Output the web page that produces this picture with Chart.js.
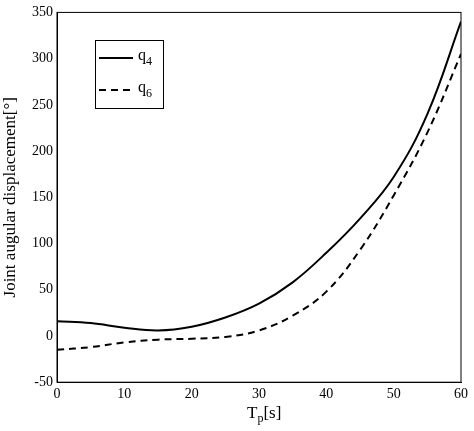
<!DOCTYPE html>
<html><head><meta charset="utf-8">
<script src="https://cdn.jsdelivr.net/npm/chart.js@4/dist/chart.umd.min.js"></script>
<style>html,body{margin:0;background:#fff}#w{width:474px;height:431px}</style>
</head><body><div id="w"><canvas id="c"></canvas></div>
<script>
const xVals=[0,5,10,15,20,25,30,35,40,45,50,55,60];
const q4=[16,14,9,6,10,20,35,58,90,127,172,240,340];
const q6=[-15,-12,-7,-4,-3,-1,6,22,48,93,152,220,305];
const xTicks=[0,10,20,30,40,50,60];
const yTicks=[-50,0,50,100,150,200,250,300,350];
const labels=[['q','4'],['q','6']];
const F='"Liberation Serif", serif';
const legendPlugin={id:'lg',afterDraw(ch){const c=ch.ctx;c.save();
c.strokeStyle='#000';c.lineWidth=1;c.strokeRect(95.5,40.5,68,68);
c.fillStyle='#000';c.textBaseline='middle';
ch.data.datasets.forEach((d,i)=>{const y=58+i*32;c.beginPath();c.lineWidth=2;c.setLineDash(d.borderDash||[]);c.moveTo(99,y);c.lineTo(133,y);c.stroke();c.setLineDash([]);
c.font='16px '+F;c.fillText(labels[i][0],138,y-2);const w=c.measureText(labels[i][0]).width;c.font='12px '+F;c.fillText(labels[i][1],138+w,y+4);});
const a=ch.chartArea;c.font='17px '+F;c.textBaseline='alphabetic';const cx=(a.left+a.right)/2-12;c.fillText('T',cx,418);const tw=c.measureText('T').width;c.font='12px '+F;c.fillText('p',cx+tw,422);const pw=c.measureText('p').width;c.font='17px '+F;c.fillText('[s]',cx+tw+pw,418);
c.restore();}};
new Chart(document.getElementById('c'),{type:'line',
data:{datasets:[
{label:'q4',data:xVals.map((x,i)=>({x,y:q4[i]})),borderColor:'#000',borderWidth:2,pointRadius:0,tension:0.4},
{label:'q6',data:xVals.map((x,i)=>({x,y:q6[i]})),borderColor:'#000',borderWidth:2,borderDash:[7,5],pointRadius:0,tension:0.4}]},
options:{animation:false,responsive:true,maintainAspectRatio:false,
layout:{padding:{top:7,right:13,bottom:24}},
plugins:{legend:{display:false},tooltip:{enabled:false}},
scales:{
x:{type:'linear',min:0,max:60,afterBuildTicks:a=>{a.ticks=xTicks.map(v=>({value:v}))},
grid:{display:false,drawTicks:false},border:{color:'#000'},
ticks:{color:'#000',font:{family:F,size:14},padding:4}},
y:{min:-50,max:350,afterBuildTicks:a=>{a.ticks=yTicks.map(v=>({value:v}))},
afterFit:a=>{a.width=57},
grid:{display:false,drawTicks:false},border:{color:'#000'},
ticks:{color:'#000',font:{family:F,size:14},padding:4},
title:{display:true,text:'Joint augular displacement[°]',color:'#000',font:{family:F,size:17},padding:0}}}},
plugins:[legendPlugin,{id:'box',afterDraw(ch){const a=ch.chartArea,c=ch.ctx;c.save();c.strokeStyle='#000';c.lineWidth=1;c.strokeRect(a.left,a.top,a.right-a.left,a.bottom-a.top);c.restore();}}]});
</script></body></html>
